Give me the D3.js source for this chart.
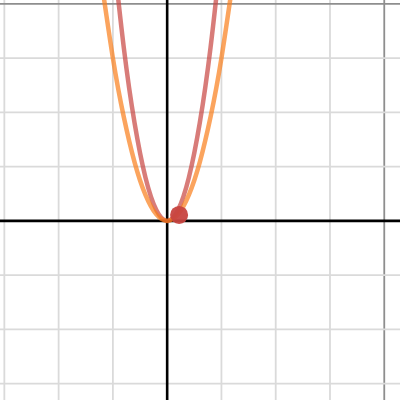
<!DOCTYPE html>
<html>
<head>
<meta charset="utf-8">
<script src="https://cdn.jsdelivr.net/npm/d3@7"></script>
<style>
  body { margin: 0; background: #fff; }
  svg { display: block; }
</style>
</head>
<body>
<div id="graph"></div>
<script>
// values, in grid units (one grid square = 1)
var gridX = [-3, -2, -1, 0, 1, 2, 3, 4];
var gridY = [-3, -2, -1, 0, 1, 2, 3, 4];
var majorEvery = 4;

// orange parabola (wider)
var orangeX = [-1.25, -1.0, -0.8, -0.6, -0.4, -0.2, 0, 0.2, 0.4, 0.6, 0.8, 1.0, 1.25];
var orangeY = [4.69, 3.0, 1.92, 1.08, 0.48, 0.12, 0, 0.12, 0.48, 1.08, 1.92, 3.0, 4.69];

// red parabola (narrower)
var redX = [-1.0, -0.8, -0.6, -0.4, -0.2, 0, 0.2, 0.4, 0.6, 0.8, 1.0];
var redY = [5.0, 3.2, 1.8, 0.8, 0.2, 0, 0.2, 0.8, 1.8, 3.2, 5.0];

// the red point
var pointX = [0.22];
var pointY = [0.11];

var svgWidth = 400;
var svgHeight = 400;

var svg = d3.select("#graph")
  .append("svg")
  .attr("width", svgWidth)
  .attr("height", svgHeight);

var xScale = d3.scaleLinear()
  .domain([-3.08, 4.29])
  .range([0, svgWidth]);

var yScale = d3.scaleLinear()
  .domain([-3.30, 4.07])
  .range([svgHeight, 0]);

svg.append("defs").append("clipPath")
  .attr("id", "plot")
  .append("rect")
  .attr("width", svgWidth)
  .attr("height", svgHeight);

// grid lines
var grid = svg.append("g");

grid.selectAll(".vline")
  .data(gridX.filter(d => d !== 0))
  .enter()
  .append("line")
  .attr("x1", d => xScale(d))
  .attr("x2", d => xScale(d))
  .attr("y1", 0)
  .attr("y2", svgHeight)
  .attr("stroke", d => d % majorEvery === 0 ? "#8e8e8e" : "#dadada")
  .attr("stroke-width", 1.8);

grid.selectAll(".hline")
  .data(gridY.filter(d => d !== 0))
  .enter()
  .append("line")
  .attr("y1", d => yScale(d))
  .attr("y2", d => yScale(d))
  .attr("x1", 0)
  .attr("x2", svgWidth)
  .attr("stroke", d => d % majorEvery === 0 ? "#8e8e8e" : "#dadada")
  .attr("stroke-width", 1.8);

// axes
svg.append("line")
  .attr("x1", 0).attr("x2", svgWidth)
  .attr("y1", yScale(0)).attr("y2", yScale(0))
  .attr("stroke", "#000")
  .attr("stroke-width", 2.6);

svg.append("line")
  .attr("x1", xScale(0)).attr("x2", xScale(0))
  .attr("y1", 0).attr("y2", svgHeight)
  .attr("stroke", "#000")
  .attr("stroke-width", 2.6);

// curves
var line = d3.line()
  .x(d => xScale(d[0]))
  .y(d => yScale(d[1]))
  .curve(d3.curveNatural);

var curves = svg.append("g").attr("clip-path", "url(#plot)");

curves.append("path")
  .datum(d3.zip(redX, redY))
  .attr("d", line)
  .attr("fill", "none")
  .attr("stroke", "#c74440")
  .attr("stroke-opacity", 0.7)
  .attr("stroke-width", 4.5);

curves.append("path")
  .datum(d3.zip(orangeX, orangeY))
  .attr("d", line)
  .attr("fill", "none")
  .attr("stroke", "#fa7e19")
  .attr("stroke-opacity", 0.7)
  .attr("stroke-width", 4.5);

svg.selectAll(".pt")
  .data(d3.zip(pointX, pointY))
  .enter()
  .append("circle")
  .attr("cx", d => xScale(d[0]))
  .attr("cy", d => yScale(d[1]))
  .attr("r", 9)
  .attr("fill", "#c74440")
  .attr("fill-opacity", 0.95);
</script>
</body>
</html>
